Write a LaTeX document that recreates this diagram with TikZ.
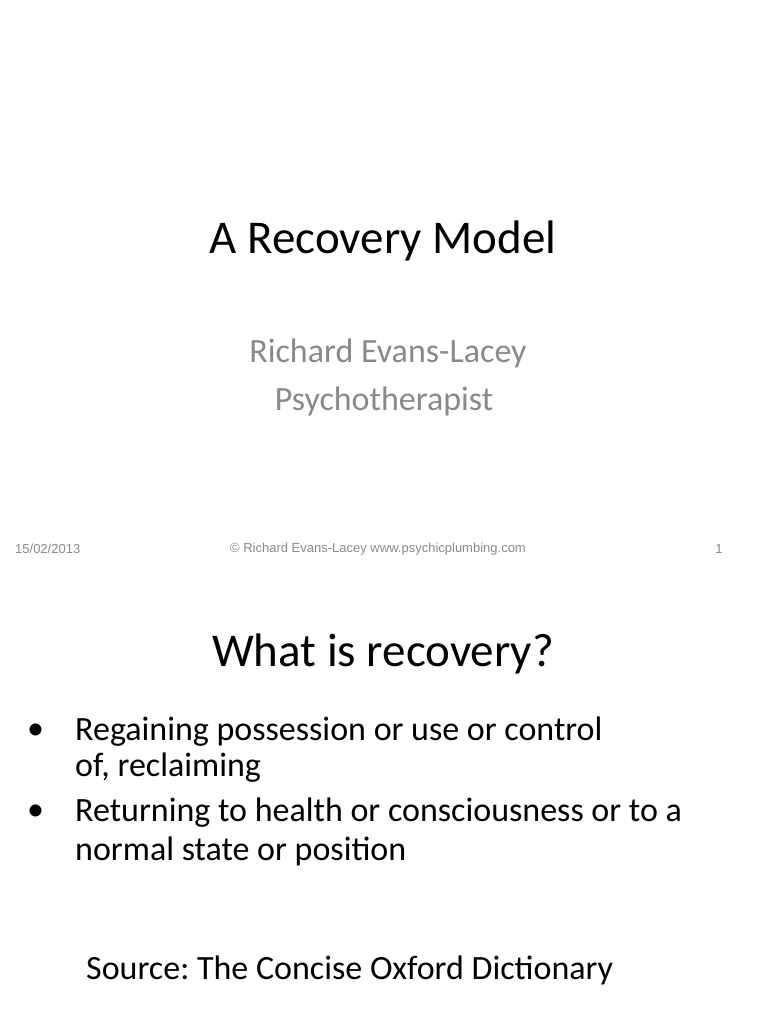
\documentclass[tikz,border=0pt]{standalone}
\usepackage{fontspec}
\setmainfont{Carlito}
\newfontfamily\arialf{Liberation Sans}
\definecolor{sub}{RGB}{137,137,137}
\frenchspacing
\begin{document}
\begin{tikzpicture}[x=1pt,y=-1pt,
  txt/.style={inner sep=0pt,font=\fontsize{34}{40}\selectfont},
  foot/.style={inner sep=0pt,text=sub,font=\arialf\fontsize{13}{15}\selectfont}]
\useasboundingbox (0,0) rectangle (768,1024);
\node[inner sep=0pt,font=\fontsize{47}{56}\selectfont] (t1) at (383,241) {A Recovery Model};
\node[txt,text=sub] (s1) at (388,353) {Richard Evans-Lacey};
\node[txt,text=sub] (s2) at (384,401) {Psychotherapist};
\node[foot,anchor=west] (d) at (15,549) {15/02/2013};
\node[foot] (c) at (378,549) {© Richard Evans-Lacey www.psychicplumbing.com};
\node[foot] (n) at (719,549) {1};
\node[inner sep=0pt,font=\fontsize{47}{56}\selectfont] (t2) at (383,654) {What is recovery?};
\node[txt,anchor=west] (b1) at (27,732) {•};
\node[txt,anchor=west] (l1) at (75,732) {Regaining possession or use or control};
\node[txt,anchor=west] (l2) at (75,768) {of, reclaiming};
\node[txt,anchor=west] (b2) at (27,813) {•};
\node[txt,anchor=west] (l3) at (75,813) {Returning to health or consciousness or to a};
\node[txt,anchor=west] (l4) at (75,851) {normal state or position};
\node[txt,anchor=west] (src) at (86,970) {Source: The Concise Oxford Dictionary};
\end{tikzpicture}
\end{document}
